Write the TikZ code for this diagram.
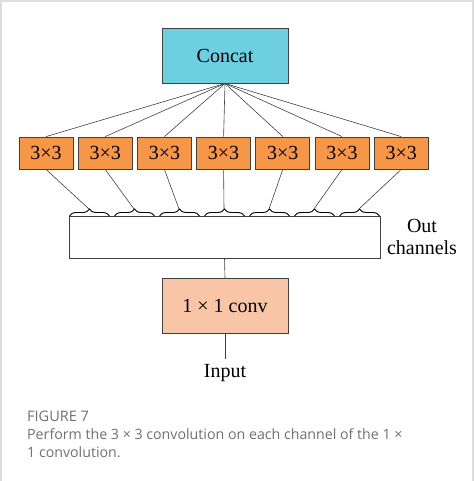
\documentclass[tikz,border=0pt]{standalone}
\usepackage{fontspec}
\setmainfont{Liberation Serif}
\newfontfamily\capfont{Open Sans}
\usetikzlibrary{decorations.pathreplacing}
\definecolor{concatfill}{HTML}{6DCFE0}
\definecolor{convfill}{HTML}{F79646}
\definecolor{onefill}{HTML}{F8C6A6}
\definecolor{edge}{HTML}{404040}
\definecolor{capgray}{HTML}{707070}
\definecolor{framegray}{HTML}{DDDDDD}

\tikzset{
  blockbox/.style={draw=edge, line width=0.9pt, minimum width=126pt, minimum height=55pt, inner sep=0pt},
  smallbox/.style={draw=edge, line width=0.8pt, fill=convfill, minimum width=54pt, minimum height=32pt, inner sep=0pt},
  wire/.style={draw=edge, line width=0.6pt},
  chbrace/.style={decorate, decoration={brace, amplitude=7pt}, draw=black, line width=0.9pt},
  captext/.style={anchor=base west, inner sep=0pt, text=capgray}
}

\begin{document}
\begin{tikzpicture}[x=1pt, y=1pt, font=\fontsize{20}{22}\selectfont]
  \useasboundingbox (0,0) rectangle (474,-481);
  % frame
  \draw[framegray, line width=2.5pt] (1.2,-481) -- (1.2,-1.2) -- (472.8,-1.2) -- (472.8,-481);
  % top and bottom blocks
  \node[blockbox, fill=concatfill] (concat) at (225,-55.5) {Concat};
  \node[draw=edge, line width=0.8pt, minimum width=311pt, minimum height=42pt, inner sep=0pt] (out) at (224.5,-237) {};
  \node[blockbox, fill=onefill] (conv) at (225,-306) {1 × 1 conv};
  \node[align=center] (outlbl) at (422,-237) {Out\\channels};
  \node (input) at (225,-373) {Input};
  % 3x3 branches
  \foreach \i in {0,...,6} {
    \node[smallbox] (k\i) at ({46+59.2*\i},-153) {3×3};
    \coordinate (b\i) at ({89+45*\i},-209);
    \draw[chbrace] ({69.5+45*\i},-216) -- ({109.5+45*\i},-216);
    \draw[wire] (concat.south) -- (k\i.north);
    \draw[wire] (k\i.south) -- (b\i);
  }
  \draw[wire] (out.south) -- (conv.north);
  \draw[wire] (conv.south) -- ++(0,-25) coordinate (inend);
  % caption
  \node[captext, font=\capfont\fontsize{14.5}{16}\selectfont] (fig) at (27,-421) {FIGURE 7};
  \node[captext, font=\capfont\fontsize{14.2}{18}\selectfont] (cap1) at (27,-439.5) {Perform the 3 × 3 convolution on each channel of the 1 ×};
  \node[captext, font=\capfont\fontsize{14.2}{18}\selectfont] (cap2) at (27,-457.5) {1 convolution.};
\end{tikzpicture}
\end{document}
